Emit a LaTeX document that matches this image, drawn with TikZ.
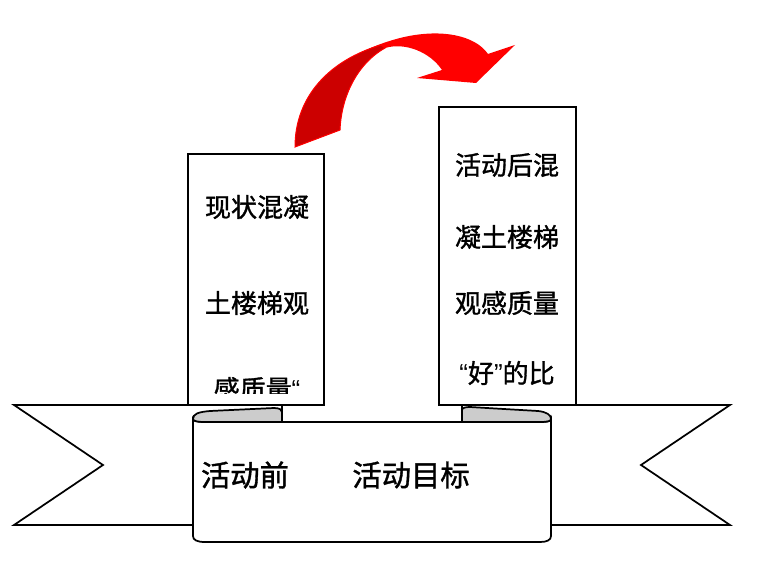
\documentclass[tikz,border=0pt]{standalone}
\usepackage{fontspec}
\setmainfont[FakeBold=1.2,AutoFakeBold=1.2]{Noto Sans CJK SC}
\newfontfamily\quotefont{Liberation Sans}
\newcommand{\openq}{{\quotefont “}}
\newcommand{\closeq}{{\quotefont ”}}

\definecolor{arrowred}{RGB}{255,0,0}
\definecolor{arrowdark}{RGB}{204,0,0}
\definecolor{rollgray}{RGB}{204,204,204}

\tikzset{every picture/.style={line width=1.3pt}}
\tikzset{
  boxtext/.style={inner sep=0pt,font=\fontsize{19.5pt}{19.5pt}\selectfont},
  bannertext/.style={inner sep=0pt,font=\fontsize{22pt}{22pt}\selectfont},
}

\begin{document}
\begin{tikzpicture}[x=0.75pt,y=0.75pt,yscale=-1,xscale=1]
\useasboundingbox (0,0) rectangle (760,570);

%Shape: Ribbon back left
\draw  [fill=white] [line join = miter] (282,412) -- (282,405) -- (14,405) -- (103,465) -- (14,525) -- (193,525) ;
%Shape: Ribbon back right
\draw  [fill=white] [line join = miter] (462,412) -- (462,405) -- (730,405) -- (641,465) -- (730,525) -- (551,525) ;

%Shape: Rectangle before
\draw  [fill=white] (188,154) rectangle (324,405) ;
%Shape: Rectangle after
\draw  [fill=white] (439,107) rectangle (576,405) ;

%Text before (cut off at the bottom)
\begin{scope}
\clip (189,155) rectangle (323,393);
\node [boxtext] (before1) at (257,207) {现状混凝};
\node [boxtext] (before2) at (257,303) {土楼梯观};
\node [boxtext] (before3) at (257,389) {感质量\openq};
\end{scope}

%Text after
\node [boxtext] (after1) at (507,165) {活动后混};
\node [boxtext] (after2) at (507,237) {凝土楼梯};
\node [boxtext] (after3) at (507,303) {观感质量};
\node [boxtext] (after4) at (507,373) {\openq 好\closeq 的比};

%Shape: Ribbon front
\draw  [fill=white] (205,422) -- (540,422) .. controls (548,422) and (551,421) .. (551,419) -- (551,536) .. controls (551,540) and (547,542) .. (540,542) -- (205,542) .. controls (197,542) and (193,540) .. (193,536) -- (193,419) .. controls (193,421) and (197,422) .. (205,422) -- cycle ;
%Shape: Roll left
\draw  [fill=rollgray] (193,419) .. controls (193,414) and (198,412) .. (210,411) -- (274,408) .. controls (280,408) and (282,410) .. (282,412) -- (282,422) -- (205,422) .. controls (197,422) and (193,421) .. (193,419) -- cycle ;
%Shape: Roll right
\draw  [fill=rollgray] (462,422) -- (462,410) .. controls (462,408) and (465,407) .. (470,407) -- (538,411) .. controls (547,412) and (551,415) .. (551,419) .. controls (551,421) and (548,422) .. (540,422) -- cycle ;

%Text banner
\node [bannertext] (start) at (245,475) {活动前};
\node [bannertext] (goal) at (411,475) {活动目标};

%Shape: Curved arrow
\fill  [arrowred] (295,147) .. controls (295,95) and (335,55) .. (400,38) .. controls (440,28) and (475,35) .. (488,54) -- (515,45) -- (476,83) -- (417,78) -- (442,70) .. controls (430,52) and (405,42) .. (385,48) .. controls (355,65) and (341,100) .. (340,130) -- cycle ;
%Shape: Curved arrow back part
\draw  [arrowdark] [fill=arrowdark] [draw=arrowred] [line width=0.75pt] (295,147) .. controls (295,96) and (330,60) .. (381,45) -- (385,48) .. controls (355,65) and (341,100) .. (340,130) -- cycle ;

\end{tikzpicture}
\end{document}
